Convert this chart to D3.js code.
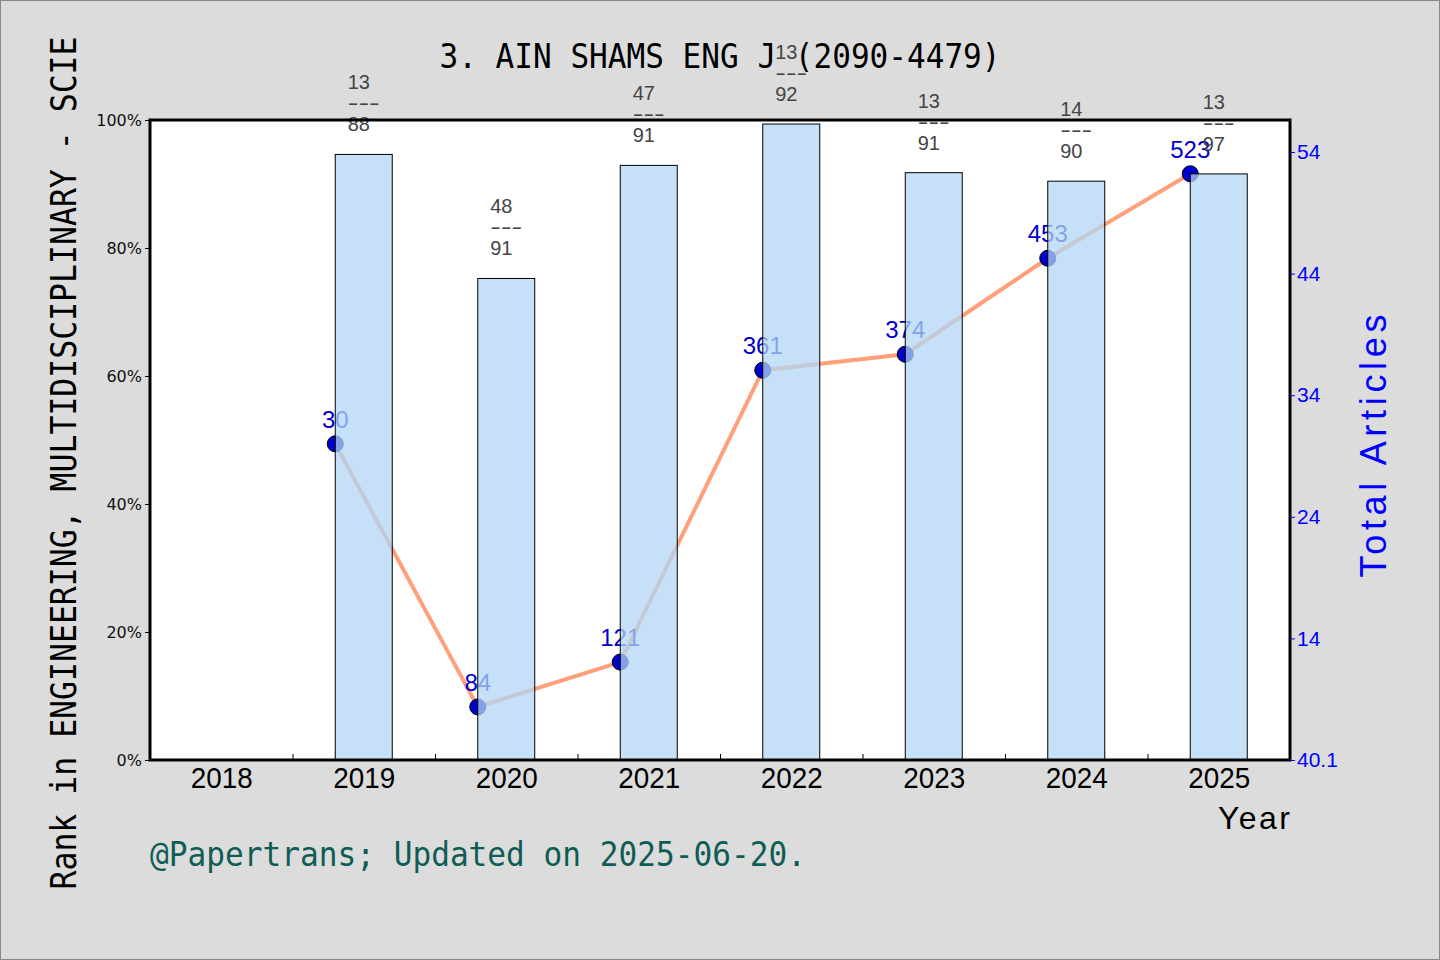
<!DOCTYPE html>
<html>
<head>
<meta charset="utf-8">
<script src="https://cdn.jsdelivr.net/npm/d3@7"></script>
<style>
  body { margin: 0; background: #dcdcdc; }
  svg { display: block; }
</style>
</head>
<body>
<svg id="chart" width="1440" height="960"></svg>
<script>
// chart data
const years = [2019, 2020, 2021, 2022, 2023, 2024, 2025];
const rankPct = [0.494, 0.083, 0.153, 0.609, 0.634, 0.784, 0.916];
const rankLabels = [30, 84, 121, 361, 374, 453, 523];
const articles = [53.8, 43.6, 52.9, 56.3, 52.3, 51.6, 52.2];
const rankTop = [13, 48, 47, 13, 13, 14, 13];
const rankTotal = [88, 91, 91, 92, 91, 90, 97];

// tick values / labels
const xTickYears = [2018, 2019, 2020, 2021, 2022, 2023, 2024, 2025];
const leftTicks = [0, 0.2, 0.4, 0.6, 0.8, 1.0];
const rightTicks = [4, 14, 24, 34, 44, 54];
const rightTickLabels = ["40.1", "14", "24", "34", "44", "54"];

// plot box
const plotLeft = 150, plotRight = 1290, plotTop = 120, plotBottom = 760;

const svg = d3.select("#chart");

// figure background + thin outer border
svg.append("rect")
    .attr("x", 0.5).attr("y", 0.5)
    .attr("width", 1439).attr("height", 959)
    .attr("fill", "#dcdcdc")
    .attr("stroke", "#8a8a8a");

// scales
const x = d3.scaleLinear().domain([2017.5, 2025.5]).range([plotLeft, plotRight]);
const yL = d3.scaleLinear().domain([0, 1]).range([plotBottom, plotTop]);
const yR = d3.scaleLinear().domain([4, 4 + (plotBottom - plotTop) / 12.16]).range([plotBottom, plotTop]);

// plot background
svg.append("rect")
    .attr("x", plotLeft).attr("y", plotTop)
    .attr("width", plotRight - plotLeft).attr("height", plotBottom - plotTop)
    .attr("fill", "#fff");

const lineData = years.map((y, i) => ({year: y, v: rankPct[i], lab: rankLabels[i]}));

// rank line (drawn first, bars wash over it)
svg.append("path")
    .datum(lineData)
    .attr("fill", "none")
    .attr("stroke", "#ffa07a")
    .attr("stroke-width", 4)
    .attr("d", d3.line().x(d => x(d.year - 0.2)).y(d => yL(d.v)));

svg.selectAll(".pt")
    .data(lineData)
    .enter().append("circle")
    .attr("class", "pt")
    .attr("cx", d => x(d.year - 0.2))
    .attr("cy", d => yL(d.v))
    .attr("r", 8)
    .attr("fill", "#0000cd")
    .attr("stroke", "#000")
    .attr("stroke-width", 1);

svg.selectAll(".pt-label")
    .data(lineData)
    .enter().append("text")
    .attr("class", "pt-label")
    .attr("x", d => x(d.year - 0.2))
    .attr("y", d => yL(d.v) - 16)
    .attr("text-anchor", "middle")
    .attr("font-family", "Liberation Sans, Arial, sans-serif")
    .attr("font-size", 24)
    .attr("fill", "#0000cd")
    .text(d => d.lab);

// article bars (semi transparent, on top of line)
const barData = years.map((y, i) => ({year: y, v: articles[i], a: rankTop[i], b: rankTotal[i]}));

svg.selectAll(".bar")
    .data(barData)
    .enter().append("rect")
    .attr("class", "bar")
    .attr("x", d => x(d.year - 0.2))
    .attr("width", x(2018.4) - x(2018))
    .attr("y", d => yR(d.v))
    .attr("height", d => plotBottom - yR(d.v))
    .attr("fill", "rgb(178,214,244)")
    .attr("fill-opacity", 0.75)
    .attr("stroke", "#000")
    .attr("stroke-width", 1);

// rank fraction labels above bars
const topLab = svg.selectAll(".frac")
    .data(barData)
    .enter().append("g")
    .attr("class", "frac")
    .attr("transform", d => `translate(${x(d.year) - 16},${yR(d.v) - 23})`)
    .attr("font-family", "Liberation Sans, Arial, sans-serif")
    .attr("font-size", 20)
    .attr("fill", "#444");

topLab.append("text").attr("y", -42).text(d => d.a);
topLab.append("text").attr("y", -21)
    .attr("textLength", 32).attr("lengthAdjust", "spacingAndGlyphs")
    .text("---");
topLab.append("text").attr("y", 0).text(d => d.b);

// title
svg.append("text")
    .attr("x", 720).attr("y", 68)
    .attr("text-anchor", "middle")
    .attr("font-family", "DejaVu Sans Mono, monospace")
    .attr("font-size", 34)
    .attr("textLength", 561).attr("lengthAdjust", "spacingAndGlyphs")
    .attr("fill", "#000")
    .text("3. AIN SHAMS ENG J (2090-4479)");

// frame
svg.append("rect")
    .attr("x", plotLeft).attr("y", plotTop)
    .attr("width", plotRight - plotLeft).attr("height", plotBottom - plotTop)
    .attr("fill", "none")
    .attr("stroke", "#000")
    .attr("stroke-width", 3);

// x ticks at half years (inward)
const halfYears = d3.range(2017.5, 2026, 1);
svg.append("g")
    .attr("transform", `translate(0,${plotBottom})`)
    .call(d3.axisBottom(x).tickValues(halfYears).tickSize(-6).tickFormat(""))
    .call(g => g.select(".domain").remove());

// x tick labels
svg.append("g")
    .attr("transform", `translate(0,${plotBottom})`)
    .call(d3.axisBottom(x).tickValues(xTickYears).tickSize(0).tickPadding(7).tickFormat(d3.format("d")))
    .call(g => g.select(".domain").remove())
    .call(g => g.selectAll("text")
        .attr("font-family", "Liberation Sans, Arial, sans-serif")
        .attr("font-size", 30)
        .attr("fill", "#000")
        .attr("textLength", 62).attr("lengthAdjust", "spacingAndGlyphs"));

// left axis
svg.append("g")
    .attr("transform", `translate(${plotLeft},0)`)
    .call(d3.axisLeft(yL).tickValues(leftTicks).tickSize(5).tickPadding(3).tickFormat(d3.format(".0%")))
    .call(g => g.select(".domain").remove())
    .call(g => g.selectAll("text")
        .attr("font-family", "DejaVu Sans, sans-serif")
        .attr("font-size", 16)
        .attr("fill", "#111"));

// right axis
svg.append("g")
    .attr("transform", `translate(${plotRight},0)`)
    .call(d3.axisRight(yR).tickValues(rightTicks).tickSize(5).tickPadding(2)
        .tickFormat((d, i) => rightTickLabels[i]))
    .call(g => g.select(".domain").remove())
    .call(g => g.selectAll("line").attr("stroke", "#0000ff"))
    .call(g => g.selectAll("text")
        .attr("font-family", "Liberation Sans, Arial, sans-serif")
        .attr("font-size", 21)
        .attr("fill", "#0000ff"));

// axis titles
svg.append("text")
    .attr("transform", "translate(76,463) rotate(-90)")
    .attr("text-anchor", "middle")
    .attr("font-family", "DejaVu Sans Mono, monospace")
    .attr("font-size", 35)
    .attr("textLength", 853).attr("lengthAdjust", "spacingAndGlyphs")
    .attr("fill", "#000")
    .text("Rank in ENGINEERING, MULTIDISCIPLINARY - SCIE");

svg.append("text")
    .attr("transform", "translate(1386,446) rotate(-90)")
    .attr("text-anchor", "middle")
    .attr("font-family", "Liberation Sans, Arial, sans-serif")
    .attr("font-size", 36)
    .attr("textLength", 263).attr("lengthAdjust", "spacing")
    .attr("fill", "#0000ff")
    .text("Total Articles");

svg.append("text")
    .attr("x", 1290).attr("y", 829)
    .attr("text-anchor", "end")
    .attr("font-family", "Liberation Sans, Arial, sans-serif")
    .attr("font-size", 32)
    .attr("textLength", 72).attr("lengthAdjust", "spacing")
    .attr("fill", "#000")
    .text("Year");

// footer
svg.append("text")
    .attr("x", 150).attr("y", 866)
    .attr("font-family", "DejaVu Sans Mono, monospace")
    .attr("font-size", 34)
    .attr("textLength", 656).attr("lengthAdjust", "spacingAndGlyphs")
    .attr("fill", "#0f5c55")
    .text("@Papertrans; Updated on 2025-06-20.");
</script>
</body>
</html>
